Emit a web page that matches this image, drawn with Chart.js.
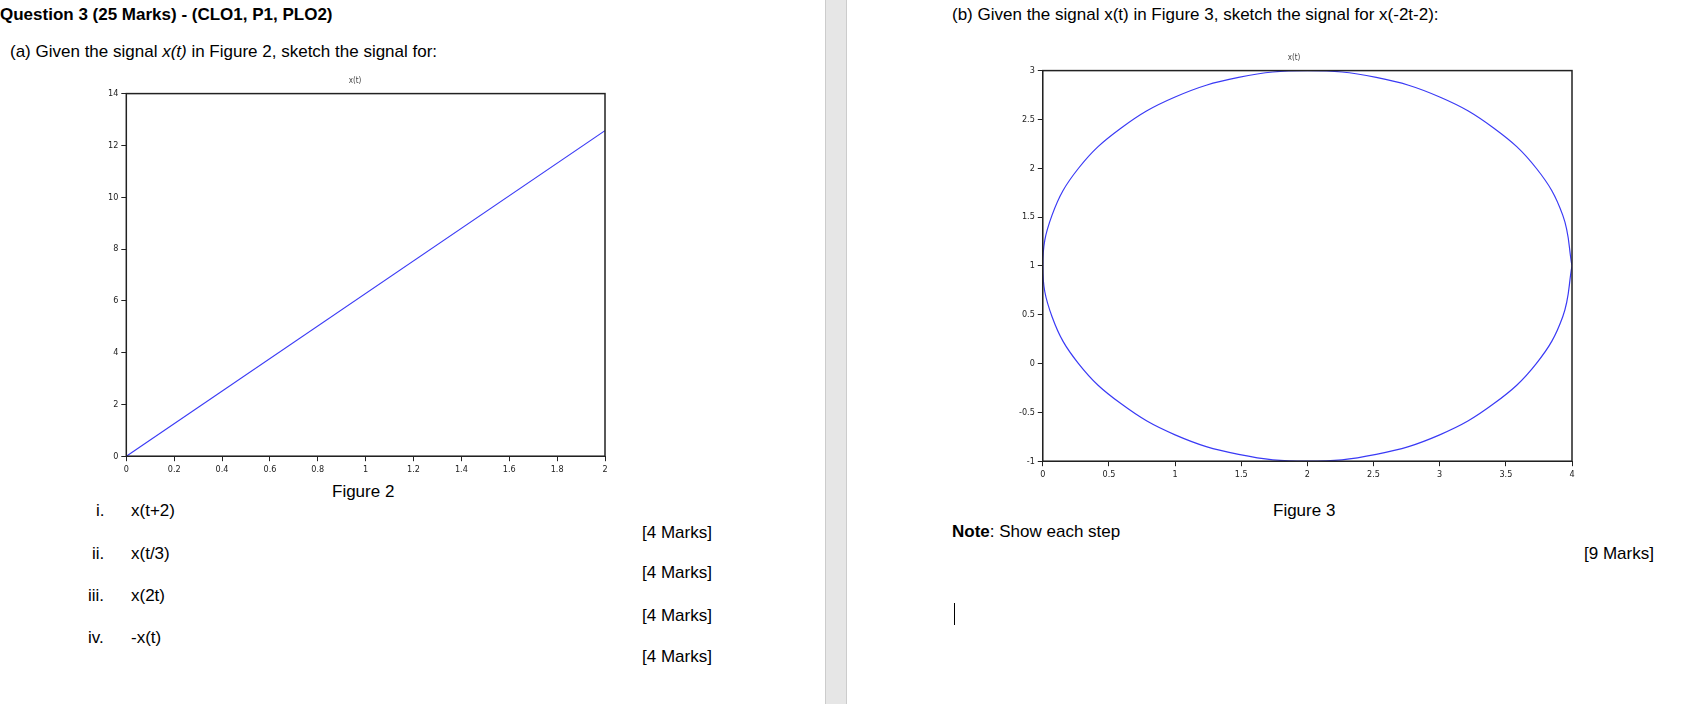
<!DOCTYPE html>
<html>
<head>
<meta charset="utf-8">
<script src="https://cdn.jsdelivr.net/npm/chart.js@4/dist/chart.umd.min.js"></script>
<style>
body { margin:0; width:1698px; height:704px; background:#fff; font-family:Arial,"Liberation Sans",sans-serif; font-size:17px; color:#000; position:relative; overflow:hidden; }
.t { position:absolute; white-space:nowrap; line-height:20px; }
.cv { position:absolute; }
#bar { position:absolute; left:825px; top:0; width:20px; height:704px; background:#e6e6e6; border-left:1px solid #ccc; border-right:1px solid #ccc; }
</style>
</head>
<body>
<div id="bar"></div>
<div class="t" style="left:0;top:5px;font-weight:bold">Question 3 (25 Marks) - (CLO1, P1, PLO2)</div>
<div class="t" style="left:10px;top:42px">(a) Given the signal <i>x(t)</i> in Figure 2, sketch the signal for:</div>
<div class="t" style="left:332px;top:482px">Figure 2</div>
<div class="t" style="left:96px;top:501px">i.</div><div class="t" style="left:131px;top:501px">x(t+2)</div>
<div class="t" style="left:92px;top:544px">ii.</div><div class="t" style="left:131px;top:544px">x(t/3)</div>
<div class="t" style="left:88px;top:586px">iii.</div><div class="t" style="left:131px;top:586px">x(2t)</div>
<div class="t" style="left:88px;top:628px">iv.</div><div class="t" style="left:131px;top:628px">-x(t)</div>
<div class="t" style="left:642px;top:523px">[4 Marks]</div>
<div class="t" style="left:642px;top:563px">[4 Marks]</div>
<div class="t" style="left:642px;top:606px">[4 Marks]</div>
<div class="t" style="left:642px;top:647px">[4 Marks]</div>
<div class="t" style="left:952px;top:5px">(b) Given the signal x(t) in Figure 3, sketch the signal for x(-2t-2):</div>
<div class="t" style="left:1273px;top:501px">Figure 3</div>
<div class="t" style="left:952px;top:522px"><b>Note</b>: Show each step</div>
<div class="t" style="left:1584px;top:544px">[9 Marks]</div>
<div class="t" style="left:954px;top:603px;width:1px;height:22px;background:#000"></div>

<canvas id="c1" class="cv" style="left:105px;top:76px" width="512" height="402"></canvas>
<canvas id="c2" class="cv" style="left:1016px;top:53px" width="568" height="430"></canvas>
<script>
// figure 2: x(t) ramp
var rampT = [0, 2];
var rampX = [0, 12.57];
// figure 3: x(t) closed curve
var curveT = [4, 3.93, 3.73, 3.41, 3, 2.52, 2, 1.48, 1, 0.59, 0.27, 0.07, 0, 0.07, 0.27, 0.59, 1, 1.48, 2, 2.52, 3, 3.41, 3.73, 3.93, 4];
var curveX = [1, 1.52, 2, 2.41, 2.73, 2.93, 3, 2.93, 2.73, 2.41, 2, 1.52, 1, 0.48, 0, -0.41, -0.73, -0.93, -1, -0.93, -0.73, -0.41, 0, 0.48, 1];

var tickFont = { family: 'DejaVu Sans Condensed', size: 9 };
var frame = {
    id: 'frame',
    afterDraw: function (chart) {
        var a = chart.chartArea, c = chart.ctx;
        c.save();
        c.strokeStyle = '#222';
        c.lineWidth = 1.5;
        c.strokeRect(a.left, a.top, a.right - a.left, a.bottom - a.top);
        c.restore();
    }
};
function plain(v) { return String(Math.round(v * 10) / 10); }

function makeChart(id, xs, ys, xOpt, yOpt, tension, pad) {
    var pts = xs.map(function (v, i) { return { x: v, y: ys[i] }; });
    return new Chart(document.getElementById(id), {
        type: 'scatter',
        data: { datasets: [{ data: pts, showLine: true, borderColor: '#3a3af5', borderWidth: 1.2, pointRadius: 0, tension: tension, fill: false }] },
        options: {
            responsive: false, animation: false,
            layout: { padding: pad },
            plugins: {
                legend: { display: false }, tooltip: { enabled: false },
                title: { display: true, text: 'x(t)', color: '#444', font: { family: 'DejaVu Sans Condensed', size: 8, weight: 'normal' }, padding: { top: 0, bottom: 8 } }
            },
            scales: {
                x: Object.assign({ type: 'linear', grid: { drawOnChartArea: false, color: '#222', tickLength: 5 }, border: { color: '#222' } }, xOpt),
                y: Object.assign({ type: 'linear', grid: { drawOnChartArea: false, color: '#222', tickLength: 5 }, border: { color: '#222' } }, yOpt)
            }
        },
        plugins: [frame]
    });
}

makeChart('c1', rampT, rampX,
    { min: 0, max: 2, ticks: { stepSize: 0.2, color: '#222', font: tickFont, maxRotation: 0, callback: plain } },
    { min: 0, max: 14, ticks: { stepSize: 2, color: '#222', font: tickFont, callback: plain } },
    0, { left: 0, right: 12, top: 0, bottom: 0 });

makeChart('c2', curveT, curveX,
    { min: 0, max: 4, ticks: { stepSize: 0.5, color: '#222', font: tickFont, maxRotation: 0, callback: plain } },
    { min: -1, max: 3, ticks: { stepSize: 0.5, color: '#222', font: tickFont, callback: plain } },
    0.4, { left: 0, right: 12, top: 0, bottom: 0 });
</script>
</body>
</html>
